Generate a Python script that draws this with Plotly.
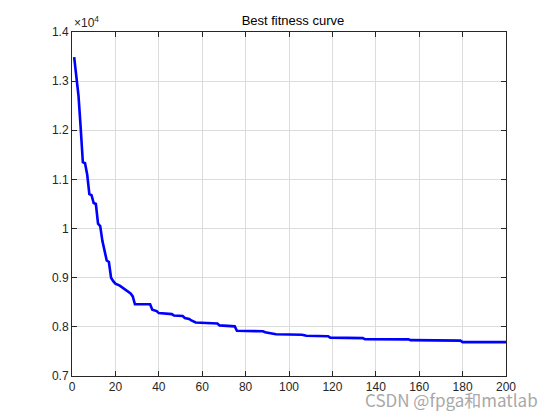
import plotly.graph_objects as go

# iteration breakpoints and best fitness values
iters = [1, 2, 3, 4, 5, 6, 7, 8, 9, 10, 11, 12, 13, 14, 15, 16, 17, 18, 19, 20,
         22, 24, 25, 27, 28, 29, 36, 37, 39, 40, 46, 47, 51, 52, 54, 55, 57, 67,
         68, 75, 76, 88, 89, 93, 94, 106, 108, 118, 119, 134, 135, 155, 156, 179,
         180, 200]
fitness = [13490, 13100, 12700, 12050, 11350, 11330, 11100, 10700, 10680, 10520,
           10500, 10100, 10050, 9750, 9550, 9350, 9320, 9000, 8930, 8880,
           8840, 8780, 8740, 8680, 8620, 8460, 8460, 8350, 8320, 8280, 8260,
           8230, 8220, 8180, 8160, 8130, 8090, 8070, 8030, 8010, 7920, 7910,
           7890, 7870, 7850, 7840, 7820, 7810, 7780, 7770, 7750, 7745, 7730,
           7720, 7690, 7690]

x_ticks = [0, 20, 40, 60, 80, 100, 120, 140, 160, 180, 200]
y_ticks = [7000, 8000, 9000, 10000, 11000, 12000, 13000, 14000]
y_labels = ["0.7", "0.8", "0.9", "1", "1.1", "1.2", "1.3", "1.4"]

FONT = "Liberation Sans, Arial"

fig = go.Figure()
fig.add_trace(go.Scatter(x=iters, y=fitness, mode="lines",
                         line=dict(color="#0000ff", width=2.6)))

axis_common = dict(showline=True, linecolor="#262626", linewidth=1, mirror="ticks",
                   ticks="inside", ticklen=5, tickcolor="#262626",
                   showgrid=True, gridcolor="#dcdcdc", gridwidth=1,
                   zeroline=False, tickfont=dict(family=FONT, size=12, color="#262626"))

fig.update_layout(
    width=552, height=412,
    margin=dict(l=64, r=54, t=24, b=44),
    paper_bgcolor="white", plot_bgcolor="white",
    showlegend=False,
    title=dict(text="Best fitness curve", x=(64 + 217) / 552, xanchor="center",
               y=1 - 12 / 412, yanchor="middle", xref="paper",
               font=dict(family=FONT, size=13, color="black")),
    xaxis=dict(range=[0, 200], tickvals=x_ticks, **axis_common),
    yaxis=dict(range=[7000, 14000], tickvals=y_ticks, ticktext=y_labels, **axis_common),
)

fig.add_annotation(text="×10<sup>4</sup>", xref="paper", yref="paper", x=0, y=1,
                   xanchor="left", yanchor="bottom", showarrow=False, yshift=0,
                   font=dict(family=FONT, size=12, color="#262626"))
fig.add_annotation(text="CSDN @fpga和matlab", xref="paper", yref="paper", x=468 / 434, y=-24 / 344,
                   xanchor="right", yanchor="middle", showarrow=False,
                   font=dict(family="Noto Sans CJK SC, Liberation Sans", size=17, color="#a8a8a8"))

fig.write_html("out.html")
